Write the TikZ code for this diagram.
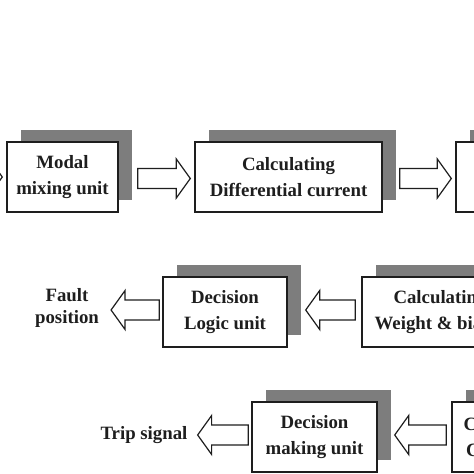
\documentclass[tikz,border=0pt]{standalone}
\usepackage{fontspec}
\setmainfont{Liberation Serif}
\usetikzlibrary{calc,shadows}
\definecolor{shadowgray}{RGB}{125,125,125}
\definecolor{inkc}{RGB}{30,30,30}
\tikzset{
  blk/.style={draw=inkc, line width=1.4pt, fill=white, minimum height=70pt,
    inner sep=0pt, align=center, text=inkc,
    font=\fontsize{18.8}{26}\selectfont\bfseries,
    general shadow={shadow xshift=14pt, shadow yshift=12.5pt, fill=shadowgray, draw=none}},
  lbl/.style={inner sep=0pt, align=center, text=inkc,
    font=\fontsize{18.8}{22}\selectfont\bfseries},
  barrow/.style={draw=inkc, line width=1.2pt, fill=white, line join=miter}
}
\newcommand\rarr[2]{%
  \draw[barrow] let \p1=#1, \p2=#2 in
    (\x1,\y1+10pt) -- (\x2-14pt,\y1+10pt) -- (\x2-14pt,\y1+19.5pt) -- (\x2,\y1)
    -- (\x2-14pt,\y1-19.5pt) -- (\x2-14pt,\y1-10pt) -- (\x1,\y1-10pt) -- cycle;}
\newcommand\larr[2]{%
  \draw[barrow] let \p1=#1, \p2=#2 in
    (\x1,\y1+10pt) -- (\x2+14pt,\y1+10pt) -- (\x2+14pt,\y1+19.5pt) -- (\x2,\y1)
    -- (\x2+14pt,\y1-19.5pt) -- (\x2+14pt,\y1-10pt) -- (\x1,\y1-10pt) -- cycle;}
\begin{document}
\begin{tikzpicture}[x=1pt,y=-1pt]
\useasboundingbox (0,0) rectangle (474,474);
\clip (0,0) rectangle (474,474);
\fill[white] (0,0) rectangle (474,474);
% row 1
\node[blk, minimum width=111pt] (m1) at (62.5,177) {Modal\\mixing unit};
\node[blk, minimum width=187pt] (m2) at (288.5,177) {Calculating\\Differential current};
\node[blk, minimum width=148pt] (m3) at (530,177) {};
\coordinate (in0) at (-60,177);
\rarr{(in0)}{($(m1.west)+(-4,1.5)$)}
\rarr{($(m1.east)+(19,1.5)$)}{($(m2.west)+(-4,1.5)$)}
\rarr{($(m2.east)+(17,1.5)$)}{($(m3.west)+(-4,1.5)$)}
% row 2
\node[lbl] (fp) at (67,308) {Fault\\position};
\node[blk, minimum width=124pt] (d1) at (225,312) {Decision\\Logic unit};
\node[blk, minimum width=156pt] (c2) at (440,312) {Calculating\\Weight \& biases};
\larr{($(c2.west)+(-6,-2)$)}{($(d1.east)+(18,-2)$)}
\larr{($(d1.west)+(-3,-2)$)}{($(fp.east)+(12,0)$)}
% row 3
\node[lbl] (ts) at (144,435) {Trip signal};
\node[blk, minimum width=125pt] (dm) at (314.5,437) {Decision\\making unit};
\node[blk, minimum width=116pt] (c3) at (510,437) {Calculating\\Coefficient};
\larr{($(c3.west)+(-5,-2)$)}{($(dm.east)+(17,-2)$)}
\larr{($(dm.west)+(-3,-2)$)}{($(ts.east)+(10,0)$)}
\end{tikzpicture}
\end{document}
